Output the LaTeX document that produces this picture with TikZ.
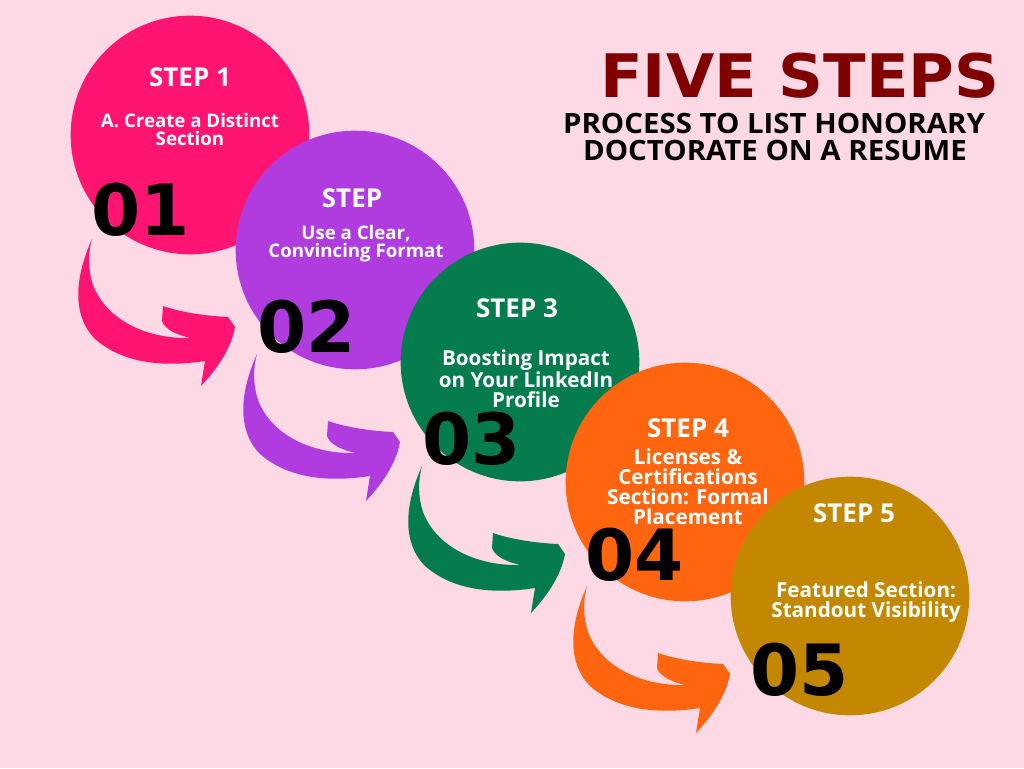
\documentclass[tikz,border=0pt]{standalone}
\usepackage{fontspec}
\setmainfont{Open Sans}
\newfontfamily\numfont{DejaVu Sans}
\usetikzlibrary{calc}

\definecolor{bgpink}{HTML}{FCD9E4}
\definecolor{stepone}{HTML}{FF1571}
\definecolor{steptwo}{HTML}{B03CE0}
\definecolor{stepthree}{HTML}{047C4E}
\definecolor{stepfour}{HTML}{FF650F}
\definecolor{stepfive}{HTML}{C48800}
\definecolor{titlered}{HTML}{800000}

\tikzset{
  stepcircle/.style={circle, minimum size=179pt, inner sep=0pt},
  stephead/.style={text=white, font=\fontsize{19.5}{20}\selectfont\bfseries, inner sep=0pt},
  descsmall/.style={text=white, align=center, font=\fontsize{14}{13.5}\selectfont\bfseries, inner sep=0pt},
  descbig/.style={text=white, align=center, font=\fontsize{15.5}{15}\selectfont\bfseries, inner sep=0pt},
  bignum/.style={anchor=base west, inner sep=0pt, font=\numfont\fontsize{53}{53}\selectfont\bfseries},
  subline/.style={anchor=base, inner sep=0pt, font=\fontsize{21}{22}\selectfont\bfseries}
}

\begin{document}
\begin{tikzpicture}[x=0.75pt, y=-0.75pt]
  \fill[bgpink] (0,0) rectangle (1024,768);
  \useasboundingbox (0,0) rectangle (1024,768);

  % curved arrows between the circles
  \foreach \cx/\cy/\col in {190/135/stepone, 355/250/steptwo, 520/362/stepthree, 685/482/stepfour}{
    \begin{scope}[shift={(\cx,\cy)}]
      \fill[\col] (-98,104)
        .. controls (-112,135) and (-121,176) .. (-96,203)
        .. controls (-70,227) and (-30,233) .. (15,226)
        -- (11,251)
        .. controls (25,236) and (41,215) .. (45,192)
        -- (38,182)
        .. controls (15,181) and (-10,177) .. (-27,171)
        -- (-28,186)
        .. controls (-25,195) and (-12,200) .. (0,203)
        .. controls (-45,204) and (-84,184) .. (-97,150)
        .. controls (-102,135) and (-102,118) .. cycle;
    \end{scope}
  }

  % circles
  \node[stepcircle, fill=stepone] (c1) at (190,135) {};
  \node[stepcircle, fill=steptwo] (c2) at (355,250) {};
  \node[stepcircle, fill=stepthree] (c3) at (520,362) {};
  \node[stepcircle, fill=stepfour] (c4) at (685,482) {};
  \node[stepcircle, fill=stepfive] (c5) at (850,596) {};

  % step texts
  \node[stephead] (step1) at (190,77) {STEP 1};
  \node[descsmall] (desc1) at (190,129) {A. Create a Distinct\\Section};
  \node[bignum] (num1) at (91,235) {01};

  \node[stephead] (step2) at (352,198) {STEP};
  \node[descsmall] (desc2) at (356,244) {Use a Clear,\\Convincing Format};
  \node[bignum] (num2) at (257,352) {02};

  \node[stephead] (step3) at (517,308) {STEP 3};
  \node[descbig] (desc3) at (526,379) {Boosting Impact\\on Your LinkedIn\\Profile};
  \node[bignum] (num3) at (422,464) {03};

  \node[stephead] (step4) at (688,428) {STEP 4};
  \node[descbig] (desc4) at (688,487) {Licenses \&\\Certifications\\Section: Formal\\Placement};
  \node[bignum] (num4) at (585,580) {04};

  \node[stephead] (step5) at (854,513) {STEP 5};
  \node[descbig] (desc5) at (866,602) {Featured Section:\\Standout Visibility};
  \node[bignum] (num5) at (750,695) {05};

  % title
  \node[anchor=base, inner sep=0pt, text=titlered, font=\numfont\fontsize{45}{45}\selectfont\bfseries] (title) at (800,97) {\scalebox{1.04}[1]{FIVE STEPS}};
  \node[subline] (sub1) at (774,133) {\scalebox{1.05}[1]{PROCESS TO LIST HONORARY}};
  \node[subline] (sub2) at (775,160) {\scalebox{1.05}[1]{DOCTORATE ON A RESUME}};
\end{tikzpicture}
\end{document}
